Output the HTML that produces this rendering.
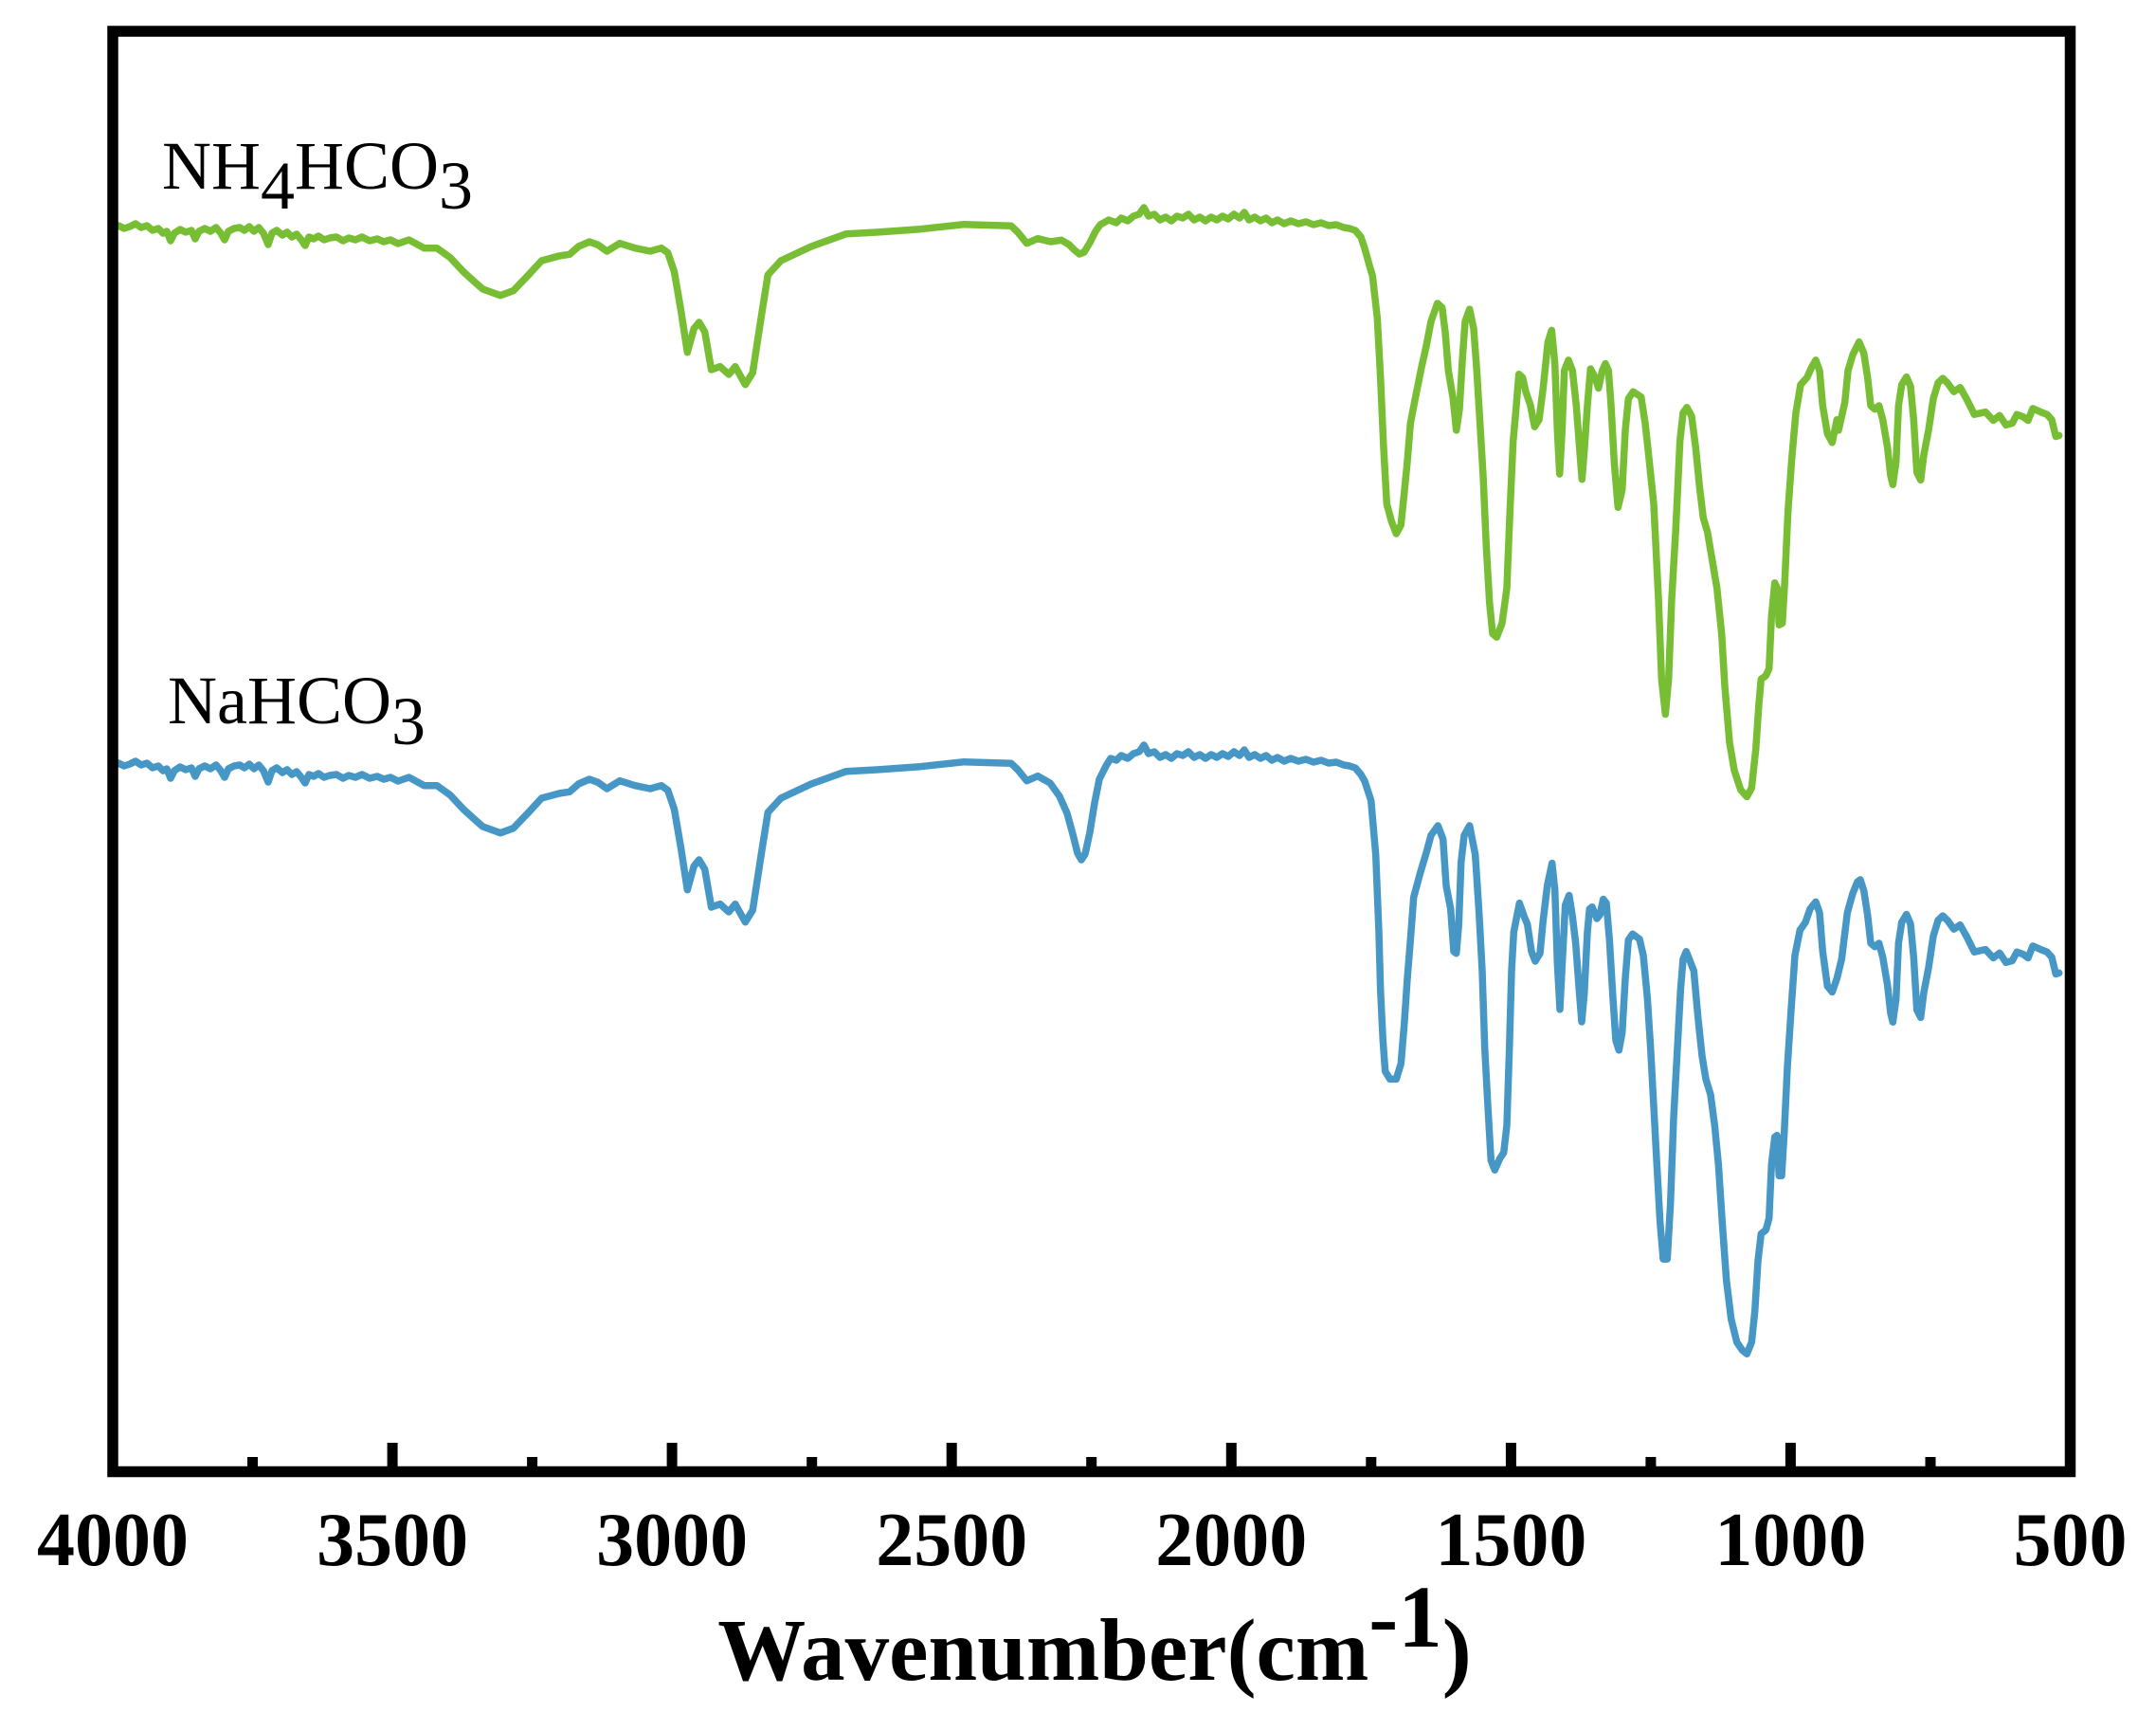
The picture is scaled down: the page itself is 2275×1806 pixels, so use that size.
<!DOCTYPE html>
<html>
<head>
<meta charset="utf-8">
<style>
html,body{margin:0;padding:0;background:#fff;}
svg{display:block;}
text{font-family:"Liberation Serif","Times New Roman",serif;fill:#000;}
</style>
</head>
<body>
<svg width="2275" height="1806" viewBox="0 0 2275 1806" xmlns="http://www.w3.org/2000/svg">
<rect x="0" y="0" width="2275" height="1806" fill="#fff"/>

<!-- Green NH4HCO3 -->
<polyline fill="none" stroke="#78BE34" stroke-width="7.5" stroke-linejoin="round" stroke-linecap="round" points="
119,240 125,238 131,241 137,239 143,236 149,240 155,238 161,243 167,241 172,246 176,244 180,254 184,246 190,242 196,245 202,243 206,252 210,244 216,241 222,244 228,240 233,246 237,253 241,244 247,241 253,240 258,243 263,239 268,244 273,240 278,246 283,258 287,246 292,243 298,248 303,245 308,250 313,247 318,253 322,259 326,250 331,252 336,249 342,253 348,251 355,250 362,254 368,251 375,253 382,250 390,254 398,252 405,255 412,253 420,257
431.5,253 447.5,261.7 461,261.7 475,271.7 489,286.7 500,296.7 509.5,305 528,311.7 541.7,306.7 557.7,290 571.5,275 590,270 601,268.3 610.5,260 622,255 631,258.3 640.4,265 654,256.7 670,261.7 686,265 697.8,261.7 704.7,266.7 711.5,286.7 718.4,326.7 725.3,371.7 732.2,346.7 737.7,340 743.7,350 750.6,390 759.8,386.7 769,395 775.8,386.7 786.4,405.7 794.2,393.3 803.4,333.3 810.3,290 824,275 856,260 893,246.7 925,245 971,241.7 1017,236.7 1067,238.3 1074,245 1083.5,256.7 1095,251.7 1108.7,255 1120,253.3 1128,258 1134,264 1139,268 1144,266 1150,256 1156,244
1161,237 1170,232 1178,235 1183,230 1190,233 1196,228 1202,226 1207,219 1212,228 1218,226 1224,232 1230,229 1236,233 1242,228 1248,230 1254,226 1260,232 1266,229 1272,233 1278,229 1284,232 1290,228 1296,231 1302,226 1308,230 1313,224 1318,232 1324,229 1330,233 1336,230 1342,235 1348,232 1355,236 1362,233 1370,236 1378,234 1386,237 1394,235 1402,238 1410,237 1418,240 1424,241 1430,243 1436,250 1440,262
1445,280 1448.3,291 1453.3,335.5 1456.7,398.4 1460,472.4 1463.3,531.6 1468.3,550 1473.3,563 1478.3,553.8 1481.7,520.5 1485,487 1488.3,446.5 1493.3,420.6 1500,387.3 1505,365 1510,339 1516.7,320 1521.7,324.4 1525,350.3 1528.3,391 1533.3,420.6 1536.7,453.9 1540,431.7 1543.3,376.2 1546,339.2 1550.7,326.2 1555,346.6 1558.3,391 1561.7,446.5 1565,502 1568.3,576 1571.7,635.2 1575,668.5 1579.3,672.2 1585,657.4 1590,620.4 1593.3,539 1596.7,465 1600,428 1602.7,394.7 1606.7,398.4 1610,413.2 1615,428 1619.3,450.2 1624,442.8 1628.3,409.5 1633.3,361.4 1637.3,348.4 1640.7,383.6 1643.3,453.9 1645.7,500.1 1648.3,453.9 1650.7,391 1655,379.9 1659.3,391 1663.3,428 1666.7,472.4 1669.3,505.7 1671.7,476.1 1675,428 1678.3,389.1 1683.3,398.4 1686.7,409.5 1690.7,391 1694,383.6 1697.3,391 1700,428 1703.3,487.2 1707.3,535.3 1711.7,516.8 1715,453.9 1718.3,420.6 1723.3,413.2 1731.7,418.7 1736,446.5 1740,483.5 1745,531.6 1750,631.5 1753.3,716.5 1757.3,753.5 1760.7,716.5 1764,631.5 1768.3,557.5 1772.7,465 1776,435.4 1780,429.8 1785,439.1 1789.3,472.4 1793.3,513.1 1797.3,546.4 1801.7,561.2 1806.7,590.8 1811.7,620.4 1816.7,668.5 1820,724 1825,783.1 1830,812.7 1836.7,833 1843.3,840.5 1848.3,831.2 1852.7,790.5 1856,742.4 1858.3,716.5 1863.3,712.8 1866.7,705.4 1869.3,650 1872.7,614.8 1875.3,620.4 1877.3,659.2 1880.7,657.4 1883.3,613 1886.7,539 1890.7,483.5 1895,435.4 1900,405.8 1906.7,398.4 1911.7,387.3 1916,379.9 1920,391 1923.3,428 1928.3,457.6 1933.3,466.8 1938.3,442.8
1940,453.9 1946.7,424.3 1950,391 1955,374.3 1961.7,360.7 1966.7,372.5 1970.7,398.4 1974,428 1978.3,431.7 1982.7,428 1986.7,442.8 1991.7,472.4 1995,502 1997.3,511.2 2000.7,487.2 2003.3,428 2006.7,405.8 2011.7,397.6 2016,407.6 2019.3,442.8 2022.7,498.3 2026.7,506.4 2030,479.8 2035,453.9 2040,420.6 2045,403.9 2050,399.1 2055,403.9 2061.7,413.2 2068.3,408.7 2075,420.6 2083.3,437.2 2095,434.6 2103.3,443.5 2110,438.3 2116.7,448.3 2123.3,446.5 2128.3,437.2 2135,439.8 2140,443.5 2145,430.9 2153.3,434.6 2160,437.2 2165,442.8 2169.3,460.5 2172.7,459.4
"/>

<!-- Blue NaHCO3 -->
<polyline fill="none" stroke="#4697C6" stroke-width="7.5" stroke-linejoin="round" stroke-linecap="round" points="
119,807 125,805 131,808 137,806 143,803 149,807 155,805 161,810 167,808 172,813 176,811 180,821 184,813 190,809 196,812 202,810 206,819 210,811 216,808 222,811 228,807 233,813 237,820 241,811 247,808 253,807 258,810 263,806 268,811 273,807 278,813 283,825 287,813 292,810 298,815 303,812 308,817 313,814 318,820 322,826 326,817 331,819 336,816 342,820 348,818 355,817 362,821 368,818 375,820 382,817 390,821 398,819 405,822 412,820 420,824
431.5,820 447.5,828.7 461,828.7 475,838.7 489,853.7 500,863.7 509.5,872 528,878.7 541.7,873.7 557.7,857 571.5,842 590,837 601,835.3 610.5,827 622,822 631,825.3 640.4,832 654,823.7 670,828.7 686,832 697.8,828.7 704.7,833.7 711.5,853.7 718.4,893.7 725.3,938.7 732.2,913.7 737.7,907 743.7,917 750.6,957 759.8,953.7 769,962 775.8,953.7 786.4,972.7 794.2,960.3 803.4,900.3 810.3,857 824,842 856,827 893,813.7 925,812 971,808.7 1017,803.7 1067,805.3 1074,812 1083.5,823.7 1095,818.7
1108,826 1118,840 1126,858 1132,880 1137,900 1141,907 1145,901 1150,878 1155,847 1160,822 1167,808 1172,800
1178,802 1183,797 1190,800 1196,795 1202,793 1207,786 1212,795 1218,793 1224,799 1230,796 1236,800 1242,795 1248,797 1254,793 1260,799 1266,796 1272,800 1278,796 1284,799 1290,795 1296,798 1302,793 1308,797 1313,791 1318,799 1324,796 1330,800 1336,797 1342,802 1348,799 1355,803 1362,800 1370,803 1378,801 1386,804 1394,802 1402,805 1410,804 1418,807 1424,808 1430,810 1436,817
1440,824 1446.7,844.5 1451.7,901.6 1455,983.3 1456.7,1044.5 1459.3,1097.6 1461.7,1130.2 1466.7,1138.4 1473.3,1138.4 1478.3,1122 1481.7,1081.2 1485,1032.2 1488.3,991.4 1491.7,946.5 1498.3,922 1505,899.6 1510,881.2 1517.3,871 1522.7,885.3 1526,934.3 1530.7,958.8 1534,1003.7 1536.7,1005.7 1539.3,975.1 1541.7,909.8 1545,881.2 1550.7,871 1556.7,901.6 1560.7,962.9 1564,1024.1 1566.7,1105.7 1570,1166.9 1573.3,1224.1 1577.3,1234.3 1582.7,1222 1586.7,1215.9 1590,1187.3 1592.7,1105.7 1595,1024.1 1597.3,983.3 1603.3,952.7 1608.3,966.9 1611.7,975.1 1616,1003.7 1620,1014 1625,1005.7 1628.3,971 1632.7,934.3 1637.7,910.6 1640.7,938.4 1643.3,1015.9 1646,1064.9 1648.7,1011.8 1651.7,954.7 1655.7,944.5 1659.3,966.9 1662.7,995.5 1666,1040.4 1669,1078 1671.7,1048.6 1675,983.3 1677.3,958.8 1680,956.7 1685,969 1688.3,964.9 1691.7,948.6 1695,952.7 1698.3,991.4 1701.7,1048.6 1705,1097.6 1708.3,1107.8 1711.7,1089.4 1715,1032.2 1718.3,991.4 1722.7,985.3 1730,990.6 1734,1007.8 1738.3,1052.7 1741.7,1105.7 1745,1166.9 1748.3,1228.2 1751.7,1289.4 1755,1328.2 1759.3,1328.2 1762.7,1269 1766,1179.2 1770,1105.7 1773.3,1044.5 1776,1011.8 1779.3,1003.7 1783.3,1013.9 1787.3,1024.1 1791.7,1073.1 1796,1113.9 1800,1138.4 1805,1154.7 1809.3,1187.3 1813.3,1228.2 1817.3,1289.4 1821.7,1350.6 1826.7,1391.4 1832.7,1415.9 1838.3,1424.1 1843.3,1428.2 1848.3,1415.9 1851.7,1383.3 1855,1330.2 1858.3,1301.6 1863.3,1297.6 1866.7,1285.3 1869.3,1228.2 1872.7,1199.6 1875,1197.6 1877.3,1240.4 1880,1240.4 1882.7,1195.5 1886,1126.1 1890,1064.9 1894,1007.8 1899.3,981.2 1905,973.1 1910,958.8 1916,951.4 1920,962.9 1923.3,1003.7 1928.3,1040.4 1933.3,1046.5 1938.3,1032.2 1943.3,1011.8 1949.3,962.9 1955,942.4 1960,930.2 1963,928
1966.7,939.5 1970.7,965.4 1974,995 1978.3,998.7 1982.7,995 1986.7,1009.8 1991.7,1039.4 1995,1069 1997.3,1078.2 2000.7,1054.2 2003.3,995 2006.7,972.8 2011.7,964.6 2016,974.6 2019.3,1009.8 2022.7,1065.3 2026.7,1073.4 2030,1046.8 2035,1020.9 2040,987.6 2045,970.9 2050,966.1 2055,970.9 2061.7,980.2 2068.3,975.7 2075,987.6 2083.3,1004.2 2095,1001.6 2103.3,1010.5 2110,1005.3 2116.7,1015.3 2123.3,1013.5 2128.3,1004.2 2135,1006.8 2140,1010.5 2145,997.9 2153.3,1001.6 2160,1004.2 2165,1009.8 2169.3,1027.5 2172.7,1026.4
"/>

<!-- Frame -->
<rect x="119" y="33" width="2065.5" height="1519.5" fill="none" stroke="#000" stroke-width="11.5"/>

<!-- Major ticks -->
<g fill="#000">
<rect x="408.6" y="1522" width="11" height="26"/>
<rect x="703.6" y="1522" width="11" height="26"/>
<rect x="998.7" y="1522" width="11" height="26"/>
<rect x="1293.8" y="1522" width="11" height="26"/>
<rect x="1588.9" y="1522" width="11" height="26"/>
<rect x="1883.9" y="1522" width="11" height="26"/>
<!-- Minor ticks -->
<rect x="261" y="1537" width="11" height="11"/>
<rect x="556.1" y="1537" width="11" height="11"/>
<rect x="851.2" y="1537" width="11" height="11"/>
<rect x="1146.2" y="1537" width="11" height="11"/>
<rect x="1441.3" y="1537" width="11" height="11"/>
<rect x="1736.4" y="1537" width="11" height="11"/>
<rect x="2031.5" y="1537" width="11" height="11"/>
</g>

<!-- Tick labels -->
<g font-size="80" font-weight="bold" text-anchor="middle">
<text x="119" y="1651">4000</text>
<text x="414.1" y="1651">3500</text>
<text x="709.1" y="1651">3000</text>
<text x="1004.2" y="1651">2500</text>
<text x="1299.3" y="1651">2000</text>
<text x="1594.4" y="1651">1500</text>
<text x="1889.4" y="1651">1000</text>
<text x="2184.5" y="1651">500</text>
</g>

<!-- Axis title -->
<text x="1155" y="1772" text-anchor="middle" font-size="93" font-weight="bold">Wavenumber(cm<tspan dy="-35">-1</tspan><tspan dy="35">)</tspan></text>

<!-- Series labels -->
<text x="171" y="199" font-size="72">NH<tspan dy="21">4</tspan><tspan dy="-21">HCO</tspan><tspan dy="21">3</tspan></text>
<text x="177" y="763" font-size="72">NaHCO<tspan dy="22">3</tspan></text>
</svg>
</body>
</html>
